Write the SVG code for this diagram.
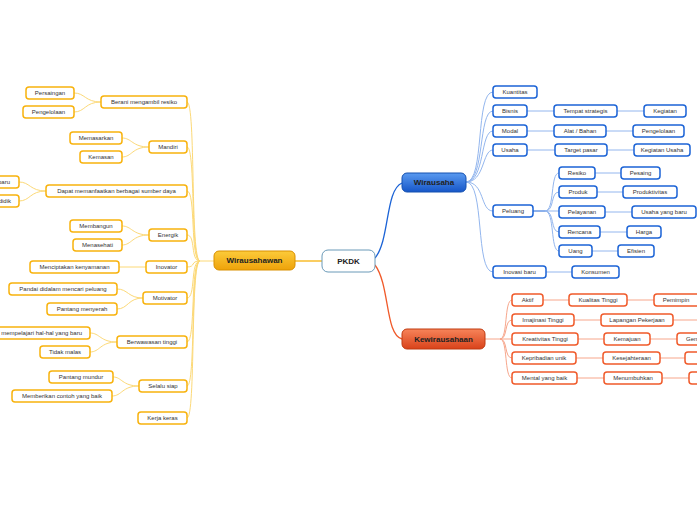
<svg xmlns="http://www.w3.org/2000/svg" width="697" height="520" viewBox="0 0 697 520">
<defs>
<linearGradient id="gb" x1="0" y1="0" x2="0" y2="1"><stop offset="0" stop-color="#5a9af0"/><stop offset="1" stop-color="#1656c8"/></linearGradient>
<linearGradient id="go" x1="0" y1="0" x2="0" y2="1"><stop offset="0" stop-color="#f7845a"/><stop offset="1" stop-color="#d9421a"/></linearGradient>
<linearGradient id="gy" x1="0" y1="0" x2="0" y2="1"><stop offset="0" stop-color="#fccb3a"/><stop offset="1" stop-color="#eea20a"/></linearGradient>
</defs>
<style>
text{font-family:"Liberation Sans",Arial,sans-serif;font-size:6px;fill:#333;text-anchor:middle}
.y rect{fill:#fff;stroke:#f8b20c;stroke-width:1.5}
.b rect{fill:#fff;stroke:#1b63d6;stroke-width:1.5}
.o rect{fill:#fff;stroke:#f05a2a;stroke-width:1.5}
.big text{font-size:8px;font-weight:bold;fill:#222}
.cy{fill:none;stroke:#fcd977;stroke-width:1}
.cb{fill:none;stroke:#93b6ee;stroke-width:1}
.co{fill:none;stroke:#f7a68b;stroke-width:1}
</style>
<rect width="697" height="520" fill="#fff"/>
<g id="connectors">
<path class="cb" d="M375,258 C390,240 385,190 402,183" style="stroke:#1b63d6;stroke-width:1.3"/>
<path class="co" d="M375,265 C390,285 385,335 402,339" style="stroke:#f05a2a;stroke-width:1.3"/>
<path class="cy" d="M322,261 L295,261" style="stroke:#f8b20c;stroke-width:1.3"/>
<path class="cb" d="M466,182 C485,182 475,92 493,92 M466,182 C485,182 478,111 493,111 M466,182 C485,182 480,131 493,131 M466,182 C485,182 482,150 493,150 M466,182 C485,182 480,211 493,211 M466,182 C485,182 475,272 493,272"/>
<path class="cb" d="M527,111 H554 M617,111 H644 M527,131 H554 M606,131 H633 M527,150 H555 M607,150 H634 M546,272 H572 M595,173 H621 M597,192 H623 M605,212 H632 M600,232 H627 M592,251 H618"/>
<path class="cb" style="stroke:#1b63d6" d="M533,211 H545"/>
<path class="cb" d="M545,211 C555,211 550,173 559,173 M545,211 C555,211 550,192 559,192 M545,211 H559 M545,211 C555,211 550,232 559,232 M545,211 C555,211 550,251 559,251"/>
<path class="co" d="M485,339 H500 M500,339 C508,339 504,300 512,300 M500,339 C508,339 504,320 512,320 M500,339 H512 M500,339 C508,339 504,358 512,358 M500,339 C508,339 504,378 512,378"/>
<path class="co" d="M543,300 H569 M627,300 H654 M574,320 H601 M673,320 H697 M578,339 H604 M650,339 H677 M576,358 H603 M660,358 H685 M577,378 H604 M662,378 H689"/>
<path class="cy" d="M214,261 H200 M200,261 C190,261 196,102 187,102 M200,261 C190,261 196,147 187,147 M200,261 C190,261 196,191 187,191 M200,261 C190,261 196,235 187,235 M200,261 C190,261 196,267 187,267 M200,261 C190,261 196,298 187,298 M200,261 C190,261 196,342 187,342 M200,261 C190,261 196,386 187,386 M200,261 C190,261 196,418 187,418"/>
<path class="cy" d="M101,102 C85,102 85,93 74,93 M101,102 C85,102 85,112 74,112 M149,147 C132,147 132,138 122,138 M149,147 C132,147 132,157 122,157 M46,191 C30,191 30,182 19,182 M46,191 C30,191 30,201 19,201 M149,235 C132,235 132,226 122,226 M149,235 C132,235 132,245 122,245 M146,267 H119 M143,298 C128,298 128,289 117,289 M143,298 C128,298 128,309 117,309 M117,342 C100,342 100,333 90,333 M117,342 C100,342 100,352 90,352 M139,386 C122,386 122,377 113,377 M139,386 C122,386 122,396 112,396"/>
</g>
<g id="pkdk" class="big"><rect x="322" y="250" width="53" height="22" rx="6" fill="#fff" stroke="#6a9ab8" stroke-width="1"/><text x="348.5" y="264">PKDK</text></g>
<g id="wirausaha" class="big"><rect x="402" y="173" width="64" height="19" rx="5" fill="url(#gb)" stroke="#1450b0"/><text x="434" y="185">Wirausaha</text></g>
<g id="kewirausahaan" class="big"><rect x="402" y="329" width="83" height="20" rx="5" fill="url(#go)" stroke="#c03a10"/><text x="443.5" y="342">Kewirausahaan</text></g>
<g id="wirausahawan" class="big"><rect x="214" y="251" width="81" height="19" rx="5" fill="url(#gy)" stroke="#d99000"/><text x="254.5" y="263">Wirausahawan</text></g>
<g class="b">
<g id="b1"><rect x="493" y="86" width="44" height="12" rx="3"/><text x="515" y="94">Kuantitas</text></g>
<g id="b2"><rect x="493" y="105" width="34" height="12" rx="3"/><text x="510" y="113">Bisnis</text></g>
<g id="b3"><rect x="493" y="125" width="34" height="12" rx="3"/><text x="510" y="133">Modal</text></g>
<g id="b4"><rect x="493" y="144" width="34" height="12" rx="3"/><text x="510" y="152">Usaha</text></g>
<g id="b5"><rect x="493" y="205" width="40" height="12" rx="3"/><text x="513" y="213">Peluang</text></g>
<g id="b6"><rect x="493" y="266" width="53" height="12" rx="3"/><text x="519.5" y="274">Inovasi baru</text></g>
<g id="b7"><rect x="554" y="105" width="63" height="12" rx="3"/><text x="585.5" y="113">Tempat strategis</text></g>
<g id="b8"><rect x="554" y="125" width="52" height="12" rx="3"/><text x="580" y="133">Alat / Bahan</text></g>
<g id="b9"><rect x="555" y="144" width="52" height="12" rx="3"/><text x="581" y="152">Target pasar</text></g>
<g id="b10"><rect x="559" y="167" width="36" height="12" rx="3"/><text x="577" y="175">Resiko</text></g>
<g id="b11"><rect x="559" y="186" width="38" height="12" rx="3"/><text x="578" y="194">Produk</text></g>
<g id="b12"><rect x="559" y="206" width="46" height="12" rx="3"/><text x="582" y="214">Pelayanan</text></g>
<g id="b13"><rect x="559" y="226" width="41" height="12" rx="3"/><text x="579.5" y="234">Rencana</text></g>
<g id="b14"><rect x="559" y="245" width="33" height="12" rx="3"/><text x="575.5" y="253">Uang</text></g>
<g id="b15"><rect x="572" y="266" width="47" height="12" rx="3"/><text x="595.5" y="274">Konsumen</text></g>
<g id="b16"><rect x="644" y="105" width="42" height="12" rx="3"/><text x="665" y="113">Kegiatan</text></g>
<g id="b17"><rect x="633" y="125" width="51" height="12" rx="3"/><text x="658.5" y="133">Pengelolaan</text></g>
<g id="b18"><rect x="634" y="144" width="56" height="12" rx="3"/><text x="662" y="152">Kegiatan Usaha</text></g>
<g id="b19"><rect x="621" y="167" width="39" height="12" rx="3"/><text x="640.5" y="175">Pesaing</text></g>
<g id="b20"><rect x="623" y="186" width="54" height="12" rx="3"/><text x="650" y="194">Produktivitas</text></g>
<g id="b21"><rect x="632" y="206" width="64" height="12" rx="3"/><text x="664" y="214">Usaha yang baru</text></g>
<g id="b22"><rect x="627" y="226" width="34" height="12" rx="3"/><text x="644" y="234">Harga</text></g>
<g id="b23"><rect x="618" y="245" width="36" height="12" rx="3"/><text x="636" y="253">Efisien</text></g>
</g>
<g class="o">
<g id="o1"><rect x="512" y="294" width="31" height="12" rx="3"/><text x="527.5" y="302">Aktif</text></g>
<g id="o2"><rect x="512" y="314" width="62" height="12" rx="3"/><text x="543" y="322">Imajinasi Tinggi</text></g>
<g id="o3"><rect x="512" y="333" width="66" height="12" rx="3"/><text x="545" y="341">Kreativitas Tinggi</text></g>
<g id="o4"><rect x="512" y="352" width="64" height="12" rx="3"/><text x="544" y="360">Kepribadian unik</text></g>
<g id="o5"><rect x="512" y="372" width="65" height="12" rx="3"/><text x="544.5" y="380">Mental yang baik</text></g>
<g id="o6"><rect x="569" y="294" width="58" height="12" rx="3"/><text x="598" y="302">Kualitas Tinggi</text></g>
<g id="o7"><rect x="601" y="314" width="72" height="12" rx="3"/><text x="637" y="322">Lapangan Pekerjaan</text></g>
<g id="o8"><rect x="604" y="333" width="46" height="12" rx="3"/><text x="627" y="341">Kemajuan</text></g>
<g id="o9"><rect x="603" y="352" width="57" height="12" rx="3"/><text x="631.5" y="360">Kesejahteraan</text></g>
<g id="o10"><rect x="604" y="372" width="58" height="12" rx="3"/><text x="633" y="380">Menumbuhkan</text></g>
<g id="o11"><rect x="654" y="294" width="55" height="12" rx="3"/><text x="676" y="302">Pemimpin</text></g>
<g id="o12"><rect x="677" y="333" width="40" height="12" rx="3"/><text x="686" y="341" style="text-anchor:start">Gen</text></g>
<g id="o13"><rect x="685" y="352" width="40" height="12" rx="3"/></g>
<g id="o14"><rect x="689" y="372" width="40" height="12" rx="3"/></g>
</g>
<g class="y">
<g id="y1"><rect x="101" y="96" width="86" height="12" rx="3"/><text x="144" y="104">Berani mengambil resiko</text></g>
<g id="y2"><rect x="149" y="141" width="38" height="12" rx="3"/><text x="168" y="149">Mandiri</text></g>
<g id="y3"><rect x="46" y="185" width="141" height="12" rx="3"/><text x="116.5" y="193">Dapat memanfaatkan berbagai sumber daya</text></g>
<g id="y4"><rect x="149" y="229" width="38" height="12" rx="3"/><text x="168" y="237">Energik</text></g>
<g id="y5"><rect x="146" y="261" width="41" height="12" rx="3"/><text x="166.5" y="269">Inovator</text></g>
<g id="y6"><rect x="143" y="292" width="44" height="12" rx="3"/><text x="165" y="300">Motivator</text></g>
<g id="y7"><rect x="117" y="336" width="70" height="12" rx="3"/><text x="152" y="344">Berwawasan tinggi</text></g>
<g id="y8"><rect x="139" y="380" width="48" height="12" rx="3"/><text x="163" y="388">Selalu siap</text></g>
<g id="y9"><rect x="138" y="412" width="49" height="12" rx="3"/><text x="162.5" y="420">Kerja keras</text></g>
<g id="y10"><rect x="26" y="87" width="48" height="12" rx="3"/><text x="50" y="95">Persaingan</text></g>
<g id="y11"><rect x="23" y="106" width="51" height="12" rx="3"/><text x="48.5" y="114">Pengelolaan</text></g>
<g id="y12"><rect x="70" y="132" width="52" height="12" rx="3"/><text x="96" y="140">Memasarkan</text></g>
<g id="y13"><rect x="80" y="151" width="42" height="12" rx="3"/><text x="101" y="159">Kemasan</text></g>
<g id="y14"><rect x="-40" y="176" width="59" height="12" rx="3"/><text x="10" y="184" style="text-anchor:end">baru</text></g>
<g id="y15"><rect x="-40" y="195" width="59" height="12" rx="3"/><text x="11" y="203" style="text-anchor:end">didik</text></g>
<g id="y16"><rect x="70" y="220" width="52" height="12" rx="3"/><text x="96" y="228">Membangun</text></g>
<g id="y17"><rect x="73" y="239" width="49" height="12" rx="3"/><text x="97.5" y="247">Menasehati</text></g>
<g id="y18"><rect x="30" y="261" width="89" height="12" rx="3"/><text x="74.5" y="269">Menciptakan kenyamanan</text></g>
<g id="y19"><rect x="9" y="283" width="108" height="12" rx="3"/><text x="63" y="291">Pandai didalam mencari peluang</text></g>
<g id="y20"><rect x="47" y="303" width="70" height="12" rx="3"/><text x="82" y="311">Pantang menyerah</text></g>
<g id="y21"><rect x="-20" y="327" width="110" height="12" rx="3"/><text x="82" y="335" style="text-anchor:end">mempelajari hal-hal yang baru</text></g>
<g id="y22"><rect x="40" y="346" width="50" height="12" rx="3"/><text x="65" y="354">Tidak malas</text></g>
<g id="y23"><rect x="49" y="371" width="64" height="12" rx="3"/><text x="81" y="379">Pantang mundur</text></g>
<g id="y24"><rect x="12" y="390" width="100" height="12" rx="3"/><text x="62" y="398">Memberikan contoh yang baik</text></g>
</g>
</svg>
